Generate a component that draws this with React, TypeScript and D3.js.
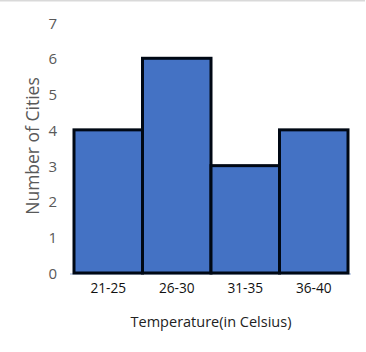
import { useRef, useEffect } from "react";
import * as d3 from "d3";

// Temperature ranges and the number of cities in each
const categories = ["21-25", "26-30", "31-35", "36-40"];
const cityCounts = [4, 6, 3, 4];
const yTicks = [0, 1, 2, 3, 4, 5, 6, 7];

export default function App() {
  const ref = useRef<SVGSVGElement>(null);

  useEffect(() => {
    const svg = d3.select(ref.current);
    svg.selectAll("*").remove();

    const width = 366;
    const height = 352;
    const margin = { left: 74, right: 18, top: 22.5, bottom: 79 };

    // top border line of the picture
    svg
      .append("line")
      .attr("x1", 0)
      .attr("x2", 365)
      .attr("y1", 0.5)
      .attr("y2", 0.5)
      .attr("stroke", "#d9d9d9")
      .attr("stroke-width", 2);

    const x = d3
      .scaleBand()
      .domain(categories)
      .range([margin.left, width - margin.right])
      .padding(0);

    const y = d3
      .scaleLinear()
      .domain([0, 7])
      .range([height - margin.bottom, margin.top]);

    // x axis baseline
    svg
      .append("line")
      .attr("x1", margin.left - 4)
      .attr("x2", width - margin.right + 3)
      .attr("y1", y(0) + 1)
      .attr("y2", y(0) + 1)
      .attr("stroke", "#cdd8ec")
      .attr("stroke-width", 2);

    // bars
    svg
      .append("g")
      .selectAll("rect")
      .data(cityCounts)
      .join("rect")
      .attr("x", (_d, i) => x(categories[i])!)
      .attr("y", (d) => y(d))
      .attr("width", x.bandwidth())
      .attr("height", (d) => y(0) - y(d))
      .attr("fill", "#4472c4")
      .attr("stroke", "#000814")
      .attr("stroke-width", 3);

    // y tick labels
    svg
      .append("g")
      .selectAll("text")
      .data(yTicks)
      .join("text")
      .attr("x", 57)
      .attr("y", (d) => y(d))
      .attr("text-anchor", "end")
      .attr("dominant-baseline", "central")
      .attr("fill", "#595959")
      .style("font-family", "'Open Sans', sans-serif")
      .style("font-size", "15px")
      .text((d) => d);

    // x tick labels
    svg
      .append("g")
      .selectAll("text")
      .data(categories)
      .join("text")
      .attr("x", (d) => x(d)! + x.bandwidth() / 2)
      .attr("y", 287)
      .attr("text-anchor", "middle")
      .attr("dominant-baseline", "central")
      .attr("fill", "#111")
      .style("font-family", "'Open Sans', sans-serif")
      .style("font-size", "13.7px")
      .text((d) => d);

    // axis titles
    svg
      .append("text")
      .attr("x", 211)
      .attr("y", 321)
      .attr("text-anchor", "middle")
      .attr("dominant-baseline", "central")
      .attr("fill", "#222")
      .style("font-family", "'Open Sans', sans-serif")
      .style("font-size", "14.5px")
      .text("Temperature(in Celsius)");

    svg
      .append("text")
      .attr("transform", "translate(32,146) rotate(-90)")
      .attr("text-anchor", "middle")
      .attr("dominant-baseline", "central")
      .attr("fill", "#595959")
      .style("font-family", "'Open Sans', sans-serif")
      .style("font-size", "17.5px")
      .text("Number of Cities");
  }, []);

  return (
    <svg
      ref={ref}
      width={366}
      height={352}
      style={{ position: "absolute", left: 0, top: 0, background: "#fff" }}
    ></svg>
  );
}
